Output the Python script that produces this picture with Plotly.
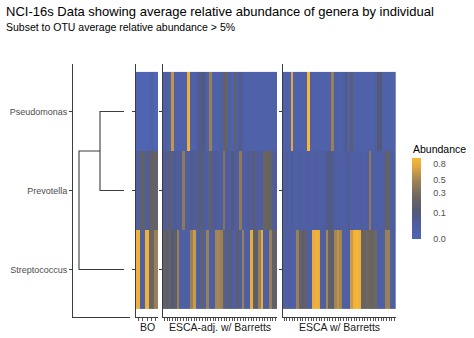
import numpy as np
import plotly.graph_objects as go

# ---------------- data ----------------
genera = ["Streptococcus", "Prevotella", "Pseudomonas"]   # bottom -> top
groups = ["BO", "ESCA-adj. w/ Barretts", "ESCA w/ Barretts"]

bo_pseudo = [0.00, 0.00, 0.00, 0.01, 0.00]
bo_prev = [0.02, 0.18, 0.04, 0.18, 0.20]
bo_strep = [0.85, 0.02, 0.85, 0.22, 0.45]

adj_pseudo = [0.02, 0.02, 0.01, 0.62, 0.01, 0.01, 0.01, 0.01, 0.01, 0.85,
              0.01, 0.01, 0.02, 0.06, 0.08, 0.06, 0.01, 0.45, 0.01, 0.01,
              0.01, 0.02, 0.18, 0.18, 0.02, 0.01, 0.18, 0.02, 0.06, 0.02,
              0.01, 0.01, 0.01, 0.01, 0.01, 0.01, 0.01, 0.01, 0.01, 0.01,
              0.01, 0.01]
adj_prev = [0.05, 0.04, 0.15, 0.04, 0.06, 0.03, 0.04, 0.40, 0.04, 0.03,
            0.06, 0.04, 0.03, 0.15, 0.05, 0.04, 0.03, 0.18, 0.04, 0.05,
            0.03, 0.04, 0.35, 0.04, 0.03, 0.08, 0.04, 0.03, 0.40, 0.04,
            0.03, 0.05, 0.04, 0.15, 0.04, 0.03, 0.04, 0.22, 0.22, 0.20,
            0.04, 0.05]
adj_strep = [0.18, 0.15, 0.18, 0.12, 0.15, 0.45, 0.02, 0.02, 0.03, 0.02,
             0.45, 0.65, 0.02, 0.03, 0.18, 0.02, 0.45, 0.02, 0.03, 0.50,
             0.50, 0.45, 0.18, 0.03, 0.15, 0.03, 0.02, 0.15, 0.03, 0.45,
             0.02, 0.03, 0.80, 0.18, 0.15, 0.45, 0.80, 0.02, 0.03, 0.45,
             0.18, 0.18]

esca_pseudo = [0.01, 0.01, 0.01, 0.75, 0.01, 0.01, 0.01, 0.01, 0.01, 0.93,
               0.01, 0.01, 0.01, 0.01, 0.01, 0.01, 0.01, 0.01, 0.45, 0.02,
               0.01, 0.01, 0.02, 0.08, 0.01, 0.15, 0.01, 0.01, 0.01, 0.01,
               0.01, 0.01, 0.01, 0.01, 0.02, 0.10, 0.10, 0.01, 0.01, 0.01,
               0.01, 0.01]
esca_prev = [0.02, 0.03, 0.02, 0.05, 0.02, 0.02, 0.03, 0.02, 0.02, 0.03,
             0.02, 0.02, 0.03, 0.02, 0.02, 0.03, 0.06, 0.08, 0.06, 0.03,
             0.02, 0.03, 0.02, 0.02, 0.05, 0.02, 0.03, 0.02, 0.02, 0.03,
             0.02, 0.03, 0.40, 0.03, 0.02, 0.03, 0.02, 0.03, 0.18, 0.18,
             0.03, 0.02]
esca_strep = [0.02, 0.02, 0.03, 0.02, 0.02, 0.45, 0.18, 0.15, 0.18, 0.02,
              0.03, 0.80, 0.85, 0.80, 0.02, 0.03, 0.50, 0.18, 0.15, 0.50,
              0.60, 0.50, 0.02, 0.03, 0.02, 0.65, 0.85, 0.90, 0.85, 0.22,
              0.22, 0.25, 0.22, 0.22, 0.25, 0.02, 0.03, 0.02, 0.45, 0.45,
              0.02, 0.03]

legend_breaks = [0.0, 0.1, 0.3, 0.5, 0.8]
legend_labels = ["0.0", "0.1", "0.3", "0.5", "0.8"]

# dendrogram merge heights: (Pseudomonas+Prevotella), (+Streptococcus)
merge_heights = [1.0, 1.875]

# ---------------- layout helpers ----------------
W, H = 474, 338
def fx(px): return px / W
def fy(py): return 1 - py / H

ydom = [fy(317), fy(64)]
yrange = [-0.6, 2.6]
FONT = "Liberation Sans, Arial, sans-serif"
LINE = "#3d3d3d"

panels = [
    (groups[0], [bo_strep, bo_prev, bo_pseudo], [136, 158]),
    (groups[1], [adj_strep, adj_prev, adj_pseudo], [163, 277]),
    (groups[2], [esca_strep, esca_prev, esca_pseudo], [282.7, 396]),
]

all_vals = np.concatenate([np.array(r) for _, rows, _ in panels for r in rows])
zmax = float(np.sqrt(all_vals.max()))

colorscale = [
    [0.00, "#4F65B4"],
    [0.18, "#4F5EA0"],
    [0.33, "#525979"],
    [0.50, "#6A6560"],
    [0.57, "#776D5F"],
    [0.73, "#A28554"],
    [0.90, "#E3A940"],
    [1.00, "#F8B833"],
]

fig = go.Figure()

# dendrogram
h1, h2 = merge_heights
dx = [0, h1, h1, 0, None, h1, h2, h2, 0]
dy = [2, 2, 1, 1, None, 1.5, 1.5, 0, 0]
fig.add_trace(go.Scatter(x=dx, y=dy, mode="lines", line=dict(color=LINE, width=1.1),
                         showlegend=False, hoverinfo="skip", xaxis="x", yaxis="y"))

layout_axes = {}
layout_axes["xaxis"] = dict(domain=[fx(73), fx(130)], range=[2.125, -0.25], anchor="y",
                            showline=True, linecolor=LINE, linewidth=1, showgrid=False,
                            zeroline=False, showticklabels=False, ticks="")
layout_axes["yaxis"] = dict(domain=ydom, range=yrange, anchor="x", showline=True,
                            linecolor=LINE, linewidth=1, showgrid=False, zeroline=False,
                            tickvals=[0, 1, 2], ticktext=genera, ticks="outside",
                            ticklen=3, tickcolor=LINE, tickwidth=1,
                            tickfont=dict(family=FONT, size=9, color="#4d4d4d"))

for i, (name, rows, (x0, x1)) in enumerate(panels):
    n = len(rows[0])
    ax = i + 2
    z = np.sqrt(np.array(rows))
    fig.add_trace(go.Heatmap(z=z, x=list(range(n)), y=[0, 1, 2], coloraxis="coloraxis",
                             xaxis=f"x{ax}", yaxis=f"y{ax}", hoverinfo="skip"))
    layout_axes[f"xaxis{ax}"] = dict(domain=[fx(x0), fx(x1)], range=[-0.5, n - 0.5],
                                     anchor=f"y{ax}", showline=True, linecolor=LINE,
                                     linewidth=1, showgrid=False, zeroline=False,
                                     tickvals=list(range(n)), ticks="outside", ticklen=3,
                                     tickcolor="#555555", tickwidth=0.8,
                                     showticklabels=False)
    layout_axes[f"yaxis{ax}"] = dict(domain=ydom, range=yrange, anchor=f"x{ax}",
                                     showline=True, linecolor=LINE, linewidth=1,
                                     showgrid=False, zeroline=False, tickvals=[0, 1, 2],
                                     ticks="outside", ticklen=3, tickcolor=LINE,
                                     showticklabels=False)

def ann(text, x, y, size, xanchor="left", color="#000000"):
    return dict(text=text, x=x, y=y, xref="paper", yref="paper", xanchor=xanchor,
                yanchor="middle", showarrow=False,
                font=dict(family=FONT, size=size, color=color))

annotations = [
    ann("NCI-16s Data showing average relative abundance of genera by individual",
        fx(4), fy(11.5), 13),
    ann("Subset to OTU average relative abundance > 5%", fx(4), fy(27), 10.5),
    ann("Abundance", fx(411), fy(148.5), 10.5),
]
for name, rows, (x0, x1) in panels:
    annotations.append(ann(name, fx((x0 + x1) / 2), fy(327), 10.5,
                           xanchor="center", color="#1a1a1a"))

fig.update_layout(
    width=W, height=H,
    margin=dict(l=0, r=0, t=0, b=0),
    paper_bgcolor="white", plot_bgcolor="white",
    showlegend=False,
    annotations=annotations,
    coloraxis=dict(
        colorscale=colorscale, cmin=0, cmax=zmax,
        colorbar=dict(
            x=fx(411.5), xanchor="left", y=fy(198.5), yanchor="middle",
            thickness=9, lenmode="pixels", len=81, xpad=0, ypad=0,
            outlinewidth=0,
            tickvals=list(np.sqrt(legend_breaks)), ticktext=legend_labels,
            ticks="outside", ticklen=11, tickcolor="rgba(255,255,255,0)", tickwidth=1,
            tickfont=dict(family=FONT, size=9, color="#4d4d4d"),
        ),
    ),
    **layout_axes,
)

fig.write_html("out.html")
